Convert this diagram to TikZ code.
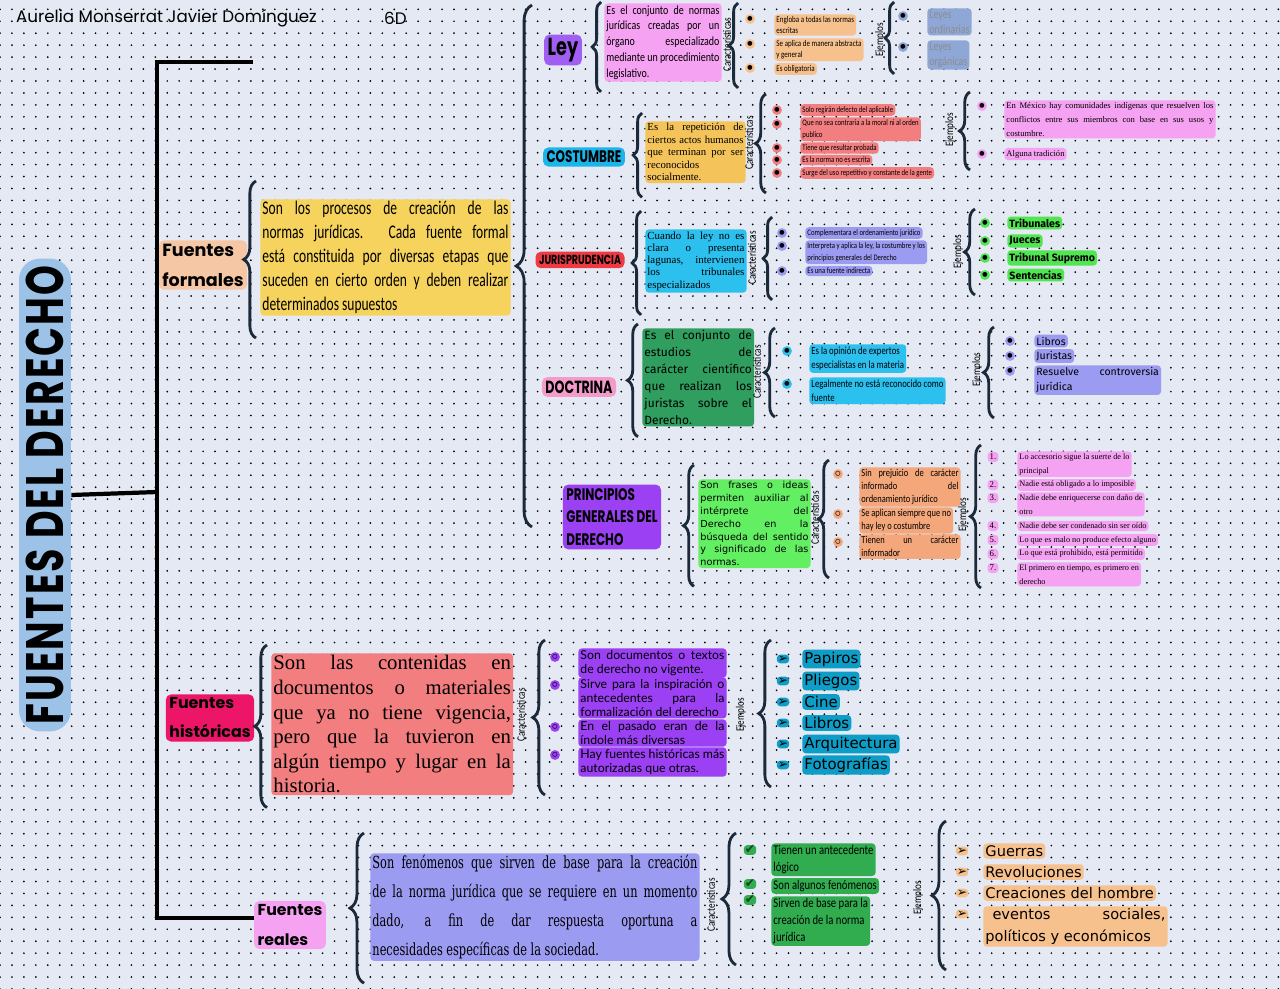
\documentclass[tikz,border=0pt]{standalone}
\usepackage{fontspec}
\usetikzlibrary{positioning,calc,decorations.pathreplacing,patterns.meta}

\newfontfamily\titlefont[FakeStretch=0.72]{Poppins}
\newfontfamily\bigtitlefont[FakeStretch=0.72, LetterSpace=4]{Poppins}
\newfontfamily\labfont{Poppins}
\newfontfamily\handfont[FakeStretch=0.8]{Carlito}
\newfontfamily\tallfont[FakeStretch=0.7]{Carlito}
\newfontfamily\serfont{Liberation Serif}
\newfontfamily\dvsans{DejaVu Sans}
\newfontfamily\narrowserif[FakeStretch=0.68]{DejaVu Serif}
\newfontfamily\roundfont{Fira Sans}
\newfontfamily\litefont{Lato}

\definecolor{paper}{HTML}{E4E9F4}
\definecolor{navy}{HTML}{1B2A3A}
\definecolor{glow}{HTML}{9DC2E8}
\definecolor{cPeach}{HTML}{F6C7A4}
\definecolor{cYellow}{HTML}{F6D35C}
\definecolor{cViolet}{HTML}{A15EF3}
\definecolor{cPink}{HTML}{F5A2F2}
\definecolor{cOrange}{HTML}{F7C18E}
\definecolor{cSteel}{HTML}{8FA7D7}
\definecolor{cCyan}{HTML}{1CB5EA}
\definecolor{cGold}{HTML}{F4C35A}
\definecolor{cSalmon}{HTML}{F37E80}
\definecolor{cRed}{HTML}{EE3B43}
\definecolor{cSky}{HTML}{2CC0EF}
\definecolor{cLav}{HTML}{9C9BF2}
\definecolor{cLime}{HTML}{52E552}
\definecolor{cRose}{HTML}{F49BCC}
\definecolor{cForest}{HTML}{2F9E5E}
\definecolor{cPurple}{HTML}{9B40F3}
\definecolor{cMint}{HTML}{62F062}
\definecolor{cApricot}{HTML}{F3A77B}
\definecolor{cCrimson}{HTML}{EC1567}
\definecolor{cTeal}{HTML}{0E9DC7}
\definecolor{cGreen}{HTML}{31AD50}

\hyphenpenalty=10000
\exhyphenpenalty=10000
\newcommand\jline[1]{#1\linebreak}

\begin{document}
\begin{tikzpicture}[
  x=0.02cm, y=-0.02cm,
  hl/.style={fill=#1, rounded corners=2pt, inner sep=1.2pt, anchor=north west, align=left},
  tag/.style={hl=#1, anchor=west},
  jus/.style={align=justify},
  branch/.style={fill=#1, rounded corners=3pt, inner sep=2pt, align=left},
  brc/.style={decorate, decoration={brace, amplitude=#1}, line width=1.6pt, draw=navy},
  bul/.style={circle, fill=#1, inner sep=0.3pt, font=\fontsize{6}{6}\selectfont},
  arrb/.style={fill=#1, rounded corners=2pt, inner sep=0.6pt, font=\dvsans\fontsize{7}{7}\selectfont},
  vlab/.style={rotate=90, font=\handfont\fontsize{6.5}{6.5}\selectfont},
  tree/.style={line width=2.4pt},
]

\useasboundingbox (0,0) rectangle (1280,989);
\fill[paper] (0,0) rectangle (1280,989);
\fill[pattern={Dots[radius=0.55pt, distance=6.8pt]}, pattern color=black] (0,0) rectangle (1280,989);

\node[anchor=west, font=\labfont\fontsize{9.5}{11}\selectfont] (autora) at (10,18) {Aurelia Monserrat Javier Domínguez};
\node[anchor=west, font=\labfont\fontsize{9.5}{11}\selectfont] (grupo) at (378,18) {6D};

\node[rotate=90, fill=glow, rounded corners=12pt, inner sep=4pt, font=\bigtitlefont\bfseries\fontsize{30}{30}\selectfont] (titulo) at (45,495) {FUENTES DEL DERECHO};

% === Fuentes formales ===
\node[branch=cPeach, font=\labfont\bfseries\fontsize{10}{17}\selectfont] (formales) at (203,265) {Fuentes\\formales};
\node[hl=cYellow, jus, text width=4.92cm, font=\tallfont\fontsize{11}{13.6}\selectfont] (formtxt) at (260,199) {\jline{Son los procesos de creación de las}\jline{normas jurídicas. Cada fuente formal}\jline{está constituida por diversas etapas que}\jline{suceden en cierto orden y deben realizar}determinados supuestos};
\draw[brc=7pt] ($(formtxt.south west)+(-4,22)$) -- ($(formtxt.north west)+(-4,-18)$);
\coordinate (fbTop) at (532,5);
\coordinate (fbBot) at (532,527);
\draw[brc=9pt] (fbBot) -- (fbTop);

% === Ley ===
\node[branch=cViolet, font=\titlefont\bfseries\fontsize{14}{14}\selectfont] (ley) at (563,50) {Ley};
\node[hl=cPink, jus, text width=2.26cm, font=\handfont\fontsize{7.1}{9}\selectfont] (leytxt) at (604,3) {\jline{Es el conjunto de normas}\jline{jurídicas creadas por un}\jline{órgano especializado}\jline{mediante un procedimiento}legislativo.};
\draw[brc=5pt] ($(leytxt.south west)+(-3,10)$) -- ($(leytxt.north west)+(-3,-1)$);
\node[vlab] (leycar) at (727,45) {Características};
\node[bul=cOrange] (lb1) at (750,19) {$\bullet$};
\node[bul=cOrange] (lb2) at (750,44) {$\bullet$};
\node[bul=cOrange] (lb3) at (750,68) {$\bullet$};
\draw[brc=5pt] ($(lb3)+(-12,20)$) -- ($(lb1)+(-12,-16)$);
\node[hl=cOrange, font=\handfont\fontsize{5}{6.2}\selectfont] (lc1) at (774,14) {Engloba a todas las normas\\escritas};
\node[hl=cOrange, font=\handfont\fontsize{5}{6.2}\selectfont] (lc2) at (774,38) {Se aplica de manera abstracta\\y general};
\node[tag=cOrange, font=\handfont\fontsize{5}{6.2}\selectfont] (lc3) at (774,69) {Es obligatoria};
\node[vlab] (leyej) at (880,40) {Ejemplos};
\node[bul=cSteel] (le1) at (903,16) {$\bullet$};
\node[bul=cSteel] (le2) at (903,47) {$\bullet$};
\draw[brc=5pt] ($(le2)+(-9,27)$) -- ($(le1)+(-9,-14)$);
\node[hl=cSteel, text=black!45, font=\handfont\fontsize{7}{8.5}\selectfont] (lx1) at (927,8) {Leyes\\ordinarias};
\node[hl=cSteel, text=black!45, font=\handfont\fontsize{7}{8.5}\selectfont] (lx2) at (927,40) {Leyes\\orgánicas};

% === Costumbre ===
\node[branch=cCyan, font=\titlefont\bfseries\fontsize{9.5}{9.5}\selectfont] (costumbre) at (584,157) {COSTUMBRE};
\node[hl=cGold, jus, text width=1.92cm, font=\serfont\fontsize{6.1}{7.1}\selectfont] (costtxt) at (645,121) {\jline{Es la repetición de}\jline{ciertos actos humanos}\jline{que terminan por ser}reconocidos\\socialmente.};
\draw[brc=5pt] ($(costtxt.south west)+(-3,14)$) -- ($(costtxt.north west)+(-3,-8)$);
\node[vlab] (costcar) at (749,143) {Características};
\node[bul=cSalmon] (cb1) at (777,110) {$\bullet$};
\node[bul=cSalmon] (cb2) at (777,124) {$\bullet$};
\node[bul=cSalmon] (cb3) at (777,148) {$\bullet$};
\node[bul=cSalmon] (cb4) at (777,160) {$\bullet$};
\node[bul=cSalmon] (cb5) at (777,173) {$\bullet$};
\draw[brc=6pt] ($(cb5)+(-11,20)$) -- ($(cb1)+(-11,-16)$);
\node[tag=cSalmon, font=\handfont\fontsize{4.8}{7}\selectfont] (cc1) at (800,110) {Solo regirán defecto del aplicable};
\node[hl=cSalmon, font=\handfont\fontsize{4.8}{7}\selectfont] (cc2) at (800,117) {Que no sea contraria a la moral ni al orden\\publico};
\node[tag=cSalmon, font=\handfont\fontsize{4.8}{7}\selectfont] (cc3) at (800,148) {Tiene que resultar probada};
\node[tag=cSalmon, font=\handfont\fontsize{4.8}{7}\selectfont] (cc4) at (800,160) {Es la norma no es escrita};
\node[tag=cSalmon, font=\handfont\fontsize{4.8}{7}\selectfont] (cc5) at (800,173) {Surge del uso repetitivo y constante de la gente};
\node[vlab] (costej) at (950,130) {Ejemplos};
\node[bul=cPink] (ce1) at (982,106) {$\bullet$};
\node[bul=cPink] (ce2) at (982,154) {$\bullet$};
\draw[brc=6pt] ($(ce2)+(-12,16)$) -- ($(ce1)+(-12,-14)$);
\node[hl=cPink, jus, text width=4.14cm, font=\serfont\fontsize{4.9}{7.9}\selectfont] (cx1) at (1004,100) {\jline{En México hay comunidades indígenas que resuelven los}\jline{conflictos entre sus miembros con base en sus usos y}costumbre.};
\node[tag=cPink, font=\serfont\fontsize{4.9}{7.9}\selectfont] (cx2) at (1004,154) {Alguna tradición};

% === Jurisprudencia ===
\node[branch=cRed, font=\titlefont\bfseries\fontsize{7.5}{7.5}\selectfont] (jurisp) at (580,260) {JURISPRUDENCIA};
\node[hl=cSky, jus, text width=1.94cm, font=\serfont\fontsize{6.2}{7}\selectfont] (juristxt) at (645,229) {\jline{Cuando la ley no es}\jline{clara o presenta}\jline{lagunas, intervienen}\jline{los tribunales}especializados};
\draw[brc=5pt] ($(juristxt.south west)+(-4,22)$) -- ($(juristxt.north west)+(-4,-18)$);
\node[vlab] (jurcar) at (752,258) {Características};
\node[bul=cLav] (jb1) at (782,233) {$\bullet$};
\node[bul=cLav] (jb2) at (782,246) {$\bullet$};
\node[bul=cLav] (jb3) at (782,271) {$\bullet$};
\draw[brc=5pt] ($(jb3)+(-10,29)$) -- ($(jb1)+(-10,-16)$);
\node[tag=cLav, font=\handfont\fontsize{4.8}{7}\selectfont] (jc1) at (805,233) {Complementara el ordenamiento jurídico};
\node[hl=cLav, font=\handfont\fontsize{4.8}{7}\selectfont] (jc2) at (805,240) {Interpreta y aplica la ley, la costumbre y los\\principios generales del Derecho};
\node[tag=cLav, font=\handfont\fontsize{4.8}{7}\selectfont] (jc3) at (805,271) {Es una fuente indirecta};
\node[vlab] (jurej) at (958,252) {Ejemplos};
\node[bul=cLime] (jeb1) at (985,223) {$\bullet$};
\node[bul=cLime] (jeb2) at (985,241) {$\bullet$};
\node[bul=cLime] (jeb3) at (985,258) {$\bullet$};
\node[bul=cLime] (jeb4) at (985,275) {$\bullet$};
\draw[brc=6pt] ($(jeb4)+(-10,20)$) -- ($(jeb1)+(-10,-14)$);
\node[tag=cLime, font=\roundfont\bfseries\fontsize{6}{7}\selectfont] (jx1) at (1007,223) {Tribunales};
\node[tag=cLime, font=\roundfont\bfseries\fontsize{6}{7}\selectfont] (jx2) at (1007,241) {Jueces};
\node[tag=cLime, font=\roundfont\bfseries\fontsize{6}{7}\selectfont] (jx3) at (1007,258) {Tribunal Supremo};
\node[tag=cLime, font=\roundfont\bfseries\fontsize{6}{7}\selectfont] (jx4) at (1007,275) {Sentencias};

% === Doctrina ===
\node[branch=cRose, font=\titlefont\bfseries\fontsize{10}{10}\selectfont] (doctrina) at (579,387) {DOCTRINA};
\node[hl=cForest, jus, text width=2.15cm, font=\roundfont\fontsize{6.8}{9.6}\selectfont] (doctxt) at (642,328) {\jline{Es el conjunto de}\jline{estudios de}\jline{carácter científico}\jline{que realizan los}\jline{juristas sobre el}Derecho.};
\draw[brc=6pt] ($(doctxt.south west)+(-4,10)$) -- ($(doctxt.north west)+(-4,-4)$);
\node[vlab] (doccar) at (757,372) {Características};
\node[bul=cSky] (db1) at (787,351) {$\bullet$};
\node[bul=cSky] (db2) at (787,384) {$\bullet$};
\draw[brc=6pt] ($(db2)+(-12,33)$) -- ($(db1)+(-12,-23)$);
\node[hl=cSky, font=\handfont\fontsize{6.2}{8.5}\selectfont] (dc1) at (809,344) {Es la opinión de expertos\\especialistas en la materia};
\node[hl=cSky, font=\handfont\fontsize{6.2}{8.5}\selectfont] (dc2) at (809,377) {Legalmente no está reconocido como\\fuente};
\node[vlab] (docej) at (977,370) {Ejemplos};
\node[bul=cLav] (deb1) at (1010,341) {$\bullet$};
\node[bul=cLav] (deb2) at (1010,356) {$\bullet$};
\node[bul=cLav] (deb3) at (1010,371) {$\bullet$};
\draw[brc=6pt] ($(deb3)+(-16,47)$) -- ($(deb1)+(-16,-14)$);
\node[tag=cLav, font=\roundfont\fontsize{6}{8.5}\selectfont] (dx1) at (1034,341) {Libros};
\node[tag=cLav, font=\roundfont\fontsize{6}{8.5}\selectfont] (dx2) at (1034,356) {Juristas};
\node[hl=cLav, jus, text width=2.45cm, font=\roundfont\fontsize{6}{8.5}\selectfont] (dx3) at (1034,365) {\jline{Resuelve controversia}jurídica};

% === Principios generales ===
\node[branch=cPurple, font=\titlefont\bfseries\fontsize{9.5}{13}\selectfont] (principios) at (612,517) {PRINCIPIOS\\GENERALES DEL\\DERECHO};
\node[hl=cMint, jus, text width=2.16cm, font=\dvsans\fontsize{5.5}{7.3}\selectfont] (printxt) at (698,479) {\jline{Son frases o ideas}\jline{permiten auxiliar al}\jline{intérprete del}\jline{Derecho en la}\jline{búsqueda del sentido}\jline{y significado de las}normas.};
\draw[brc=6pt] ($(printxt.south west)+(-4,18)$) -- ($(printxt.north west)+(-4,-14)$);
\node[vlab] (princar) at (815,518) {Características};
\node[bul=cApricot] (pb1) at (838,474) {$\circ$};
\node[bul=cApricot] (pb2) at (838,514) {$\circ$};
\node[bul=cApricot] (pb3) at (838,542) {$\circ$};
\draw[brc=6pt] ($(pb3)+(-9,36)$) -- ($(pb1)+(-9,-14)$);
\node[hl=cApricot, jus, text width=1.94cm, font=\handfont\fontsize{6}{7.4}\selectfont] (pc1) at (859,467) {\jline{Sin prejuicio de carácter}\jline{informado del}ordenamiento jurídico};
\node[hl=cApricot, font=\handfont\fontsize{6}{7.4}\selectfont] (pc2) at (859,507) {Se aplican siempre que no\\hay ley o costumbre};
\node[hl=cApricot, jus, text width=1.94cm, font=\handfont\fontsize{6}{7.4}\selectfont] (pc3) at (859,534) {\jline{Tienen un carácter}informador};
\node[vlab] (prinej) at (963,515) {Ejemplos};
\node[hl=cPink, anchor=center, font=\serfont\fontsize{5}{5}\selectfont] (pn1) at (993,457) {1.};
\node[hl=cPink, anchor=center, font=\serfont\fontsize{5}{5}\selectfont] (pn2) at (993,485) {2.};
\node[hl=cPink, anchor=center, font=\serfont\fontsize{5}{5}\selectfont] (pn3) at (993,498) {3.};
\node[hl=cPink, anchor=center, font=\serfont\fontsize{5}{5}\selectfont] (pn4) at (993,526) {4.};
\node[hl=cPink, anchor=center, font=\serfont\fontsize{5}{5}\selectfont] (pn5) at (993,540) {5.};
\node[hl=cPink, anchor=center, font=\serfont\fontsize{5}{5}\selectfont] (pn6) at (993,554) {6.};
\node[hl=cPink, anchor=center, font=\serfont\fontsize{5}{5}\selectfont] (pn7) at (993,568) {7.};
\draw[brc=6pt] ($(pn7)+(-12,20)$) -- ($(pn1)+(-12,-12)$);
\node[hl=cPink, font=\serfont\fontsize{4.7}{7.9}\selectfont] (px1) at (1017,451) {Lo accesorio sigue la suerte de lo\\principal};
\node[tag=cPink, font=\serfont\fontsize{4.7}{7.9}\selectfont] (px2) at (1017,485) {Nadie está obligado a lo imposible};
\node[hl=cPink, font=\serfont\fontsize{4.7}{7.9}\selectfont] (px3) at (1017,492) {Nadie debe enriquecerse con daño de\\otro};
\node[tag=cPink, font=\serfont\fontsize{4.7}{7.9}\selectfont] (px4) at (1017,526) {Nadie debe ser condenado sin ser oído};
\node[tag=cPink, font=\serfont\fontsize{4.7}{7.9}\selectfont] (px5) at (1017,540) {Lo que es malo no produce efecto alguno};
\node[tag=cPink, font=\serfont\fontsize{4.7}{7.9}\selectfont] (px6) at (1017,554) {Lo que está prohibido, está permitido};
\node[hl=cPink, font=\serfont\fontsize{4.7}{7.9}\selectfont] (px7) at (1017,562) {El primero en tiempo, es primero en\\derecho};

% === Fuentes historicas ===
\node[branch=cCrimson, font=\labfont\bfseries\fontsize{9}{16.5}\selectfont] (historicas) at (210,718) {Fuentes\\históricas};
\node[hl=cSalmon, jus, text width=4.75cm, font=\serfont\fontsize{11.8}{14}\selectfont] (histtxt) at (271,653) {\jline{Son las contenidas en}\jline{documentos o materiales}\jline{que ya no tiene vigencia,}\jline{pero que la tuvieron en}\jline{algún tiempo y lugar en la}historia.};
\draw[brc=7pt] ($(histtxt.south west)+(-4,12)$) -- ($(histtxt.north west)+(-4,-8)$);
\node[vlab] (histcar) at (521,715) {Características};
\node[bul=cPurple] (hb1) at (555,657) {$\circ$};
\node[bul=cPurple] (hb2) at (555,685) {$\circ$};
\node[bul=cPurple] (hb3) at (555,727) {$\circ$};
\node[bul=cPurple] (hb4) at (555,755) {$\circ$};
\draw[brc=7pt] ($(hb4)+(-10,40)$) -- ($(hb1)+(-10,-17)$);
\node[hl=cPurple, jus, text width=2.88cm, font=\litefont\fontsize{7}{7.9}\selectfont] (hc1) at (578,648) {\jline{Son documentos o textos}de derecho no vigente.};
\node[hl=cPurple, jus, text width=2.88cm, font=\litefont\fontsize{7}{7.9}\selectfont] (hc2) at (578,677) {\jline{Sirve para la inspiración o}\jline{antecedentes para la}formalización del derecho};
\node[hl=cPurple, jus, text width=2.88cm, font=\litefont\fontsize{7}{7.9}\selectfont] (hc3) at (578,719) {\jline{En el pasado eran de la}índole más diversas};
\node[hl=cPurple, jus, text width=2.88cm, font=\litefont\fontsize{7}{7.9}\selectfont] (hc4) at (578,747) {\jline{Hay fuentes históricas más}autorizadas que otras.};
\node[vlab] (histej) at (741,715) {Ejemplos};
\node[arrb=cTeal] (ha1) at (783,659) {➢};
\node[arrb=cTeal] (ha2) at (783,681) {➢};
\node[arrb=cTeal] (ha3) at (783,702) {➢};
\node[arrb=cTeal] (ha4) at (783,723) {➢};
\node[arrb=cTeal] (ha5) at (783,744) {➢};
\node[arrb=cTeal] (ha6) at (783,765) {➢};
\draw[brc=7pt] ($(ha6)+(-12,22)$) -- ($(ha1)+(-12,-19)$);
\node[tag=cTeal, font=\dvsans\fontsize{8.5}{10}\selectfont] (hx1) at (802,659) {Papiros};
\node[tag=cTeal, font=\dvsans\fontsize{8.5}{10}\selectfont] (hx2) at (802,681) {Pliegos};
\node[tag=cTeal, font=\dvsans\fontsize{8.5}{10}\selectfont] (hx3) at (802,702) {Cine};
\node[tag=cTeal, font=\dvsans\fontsize{8.5}{10}\selectfont] (hx4) at (802,723) {Libros};
\node[tag=cTeal, font=\dvsans\fontsize{8.5}{10}\selectfont] (hx5) at (802,744) {Arquitectura};
\node[tag=cTeal, font=\dvsans\fontsize{8.5}{10}\selectfont] (hx6) at (802,765) {Fotografías};

% === Fuentes reales ===
\node[branch=cPink, font=\labfont\bfseries\fontsize{9}{17}\selectfont] (reales) at (290,925) {Fuentes\\reales};
\node[hl=cLav, jus, text width=6.5cm, font=\narrowserif\fontsize{9.5}{16.4}\selectfont] (realtxt) at (370,853) {\jline{Son fenómenos que sirven de base para la creación}\jline{de la norma jurídica que se requiere en un momento}\jline{dado, a fin de dar respuesta oportuna a}necesidades específicas de la sociedad.};
\draw[brc=8pt] ($(realtxt.south west)+(-6,22)$) -- ($(realtxt.north west)+(-6,-20)$);
\node[vlab] (realcar) at (711,905) {Características};
\node[arrb=cGreen, text=cGreen!40!black] (rk1) at (750,850) {✔};
\node[arrb=cGreen, text=cGreen!40!black] (rk2) at (750,884) {✔};
\node[arrb=cGreen, text=cGreen!40!black] (rk3) at (750,900) {✔};
\draw[brc=8pt] ($(rk3)+(-14,65)$) -- ($(rk1)+(-14,-17)$);
\node[hl=cGreen, font=\handfont\fontsize{7.6}{9.6}\selectfont] (rc1) at (771,843) {Tienen un antecedente\\lógico};
\node[tag=cGreen, font=\handfont\fontsize{7.6}{9.6}\selectfont] (rc2) at (771,886) {Son algunos fenómenos};
\node[hl=cGreen, font=\handfont\fontsize{7.6}{9.6}\selectfont] (rc3) at (771,896) {Sirven de base para la\\creación de la norma\\jurídica};
\node[vlab] (realej) at (918,898) {Ejemplos};
\node[arrb=cOrange] (ra1) at (962,851) {➢};
\node[arrb=cOrange] (ra2) at (962,872) {➢};
\node[arrb=cOrange] (ra3) at (962,893) {➢};
\node[arrb=cOrange] (ra4) at (962,914) {➢};
\draw[brc=8pt] ($(ra4)+(-16,56)$) -- ($(ra1)+(-16,-30)$);
\node[tag=cOrange, font=\dvsans\fontsize{8.3}{12.5}\selectfont] (rx1) at (983,851) {Guerras};
\node[tag=cOrange, font=\dvsans\fontsize{8.3}{12.5}\selectfont] (rx2) at (983,872) {Revoluciones};
\node[tag=cOrange, font=\dvsans\fontsize{8.3}{12.5}\selectfont] (rx3) at (983,893) {Creaciones del hombre};
\node[hl=cOrange, jus, text width=3.6cm, font=\dvsans\fontsize{8.3}{12.5}\selectfont] (rx4) at (983,906) {\jline{\hspace*{4pt}eventos sociales,}políticos y económicos};

% === arbol ===
\coordinate (spineTop) at (157,62);
\coordinate (topEnd) at (253,62);
\coordinate (spineMid) at (157,492);
\coordinate (spineBot) at (157,918);
\draw[tree] (topEnd) -- (spineTop) -- (spineBot) -- (reales.west |- spineBot);
\draw[tree] (titulo.south) -- (spineMid);

\end{tikzpicture}
\end{document}
